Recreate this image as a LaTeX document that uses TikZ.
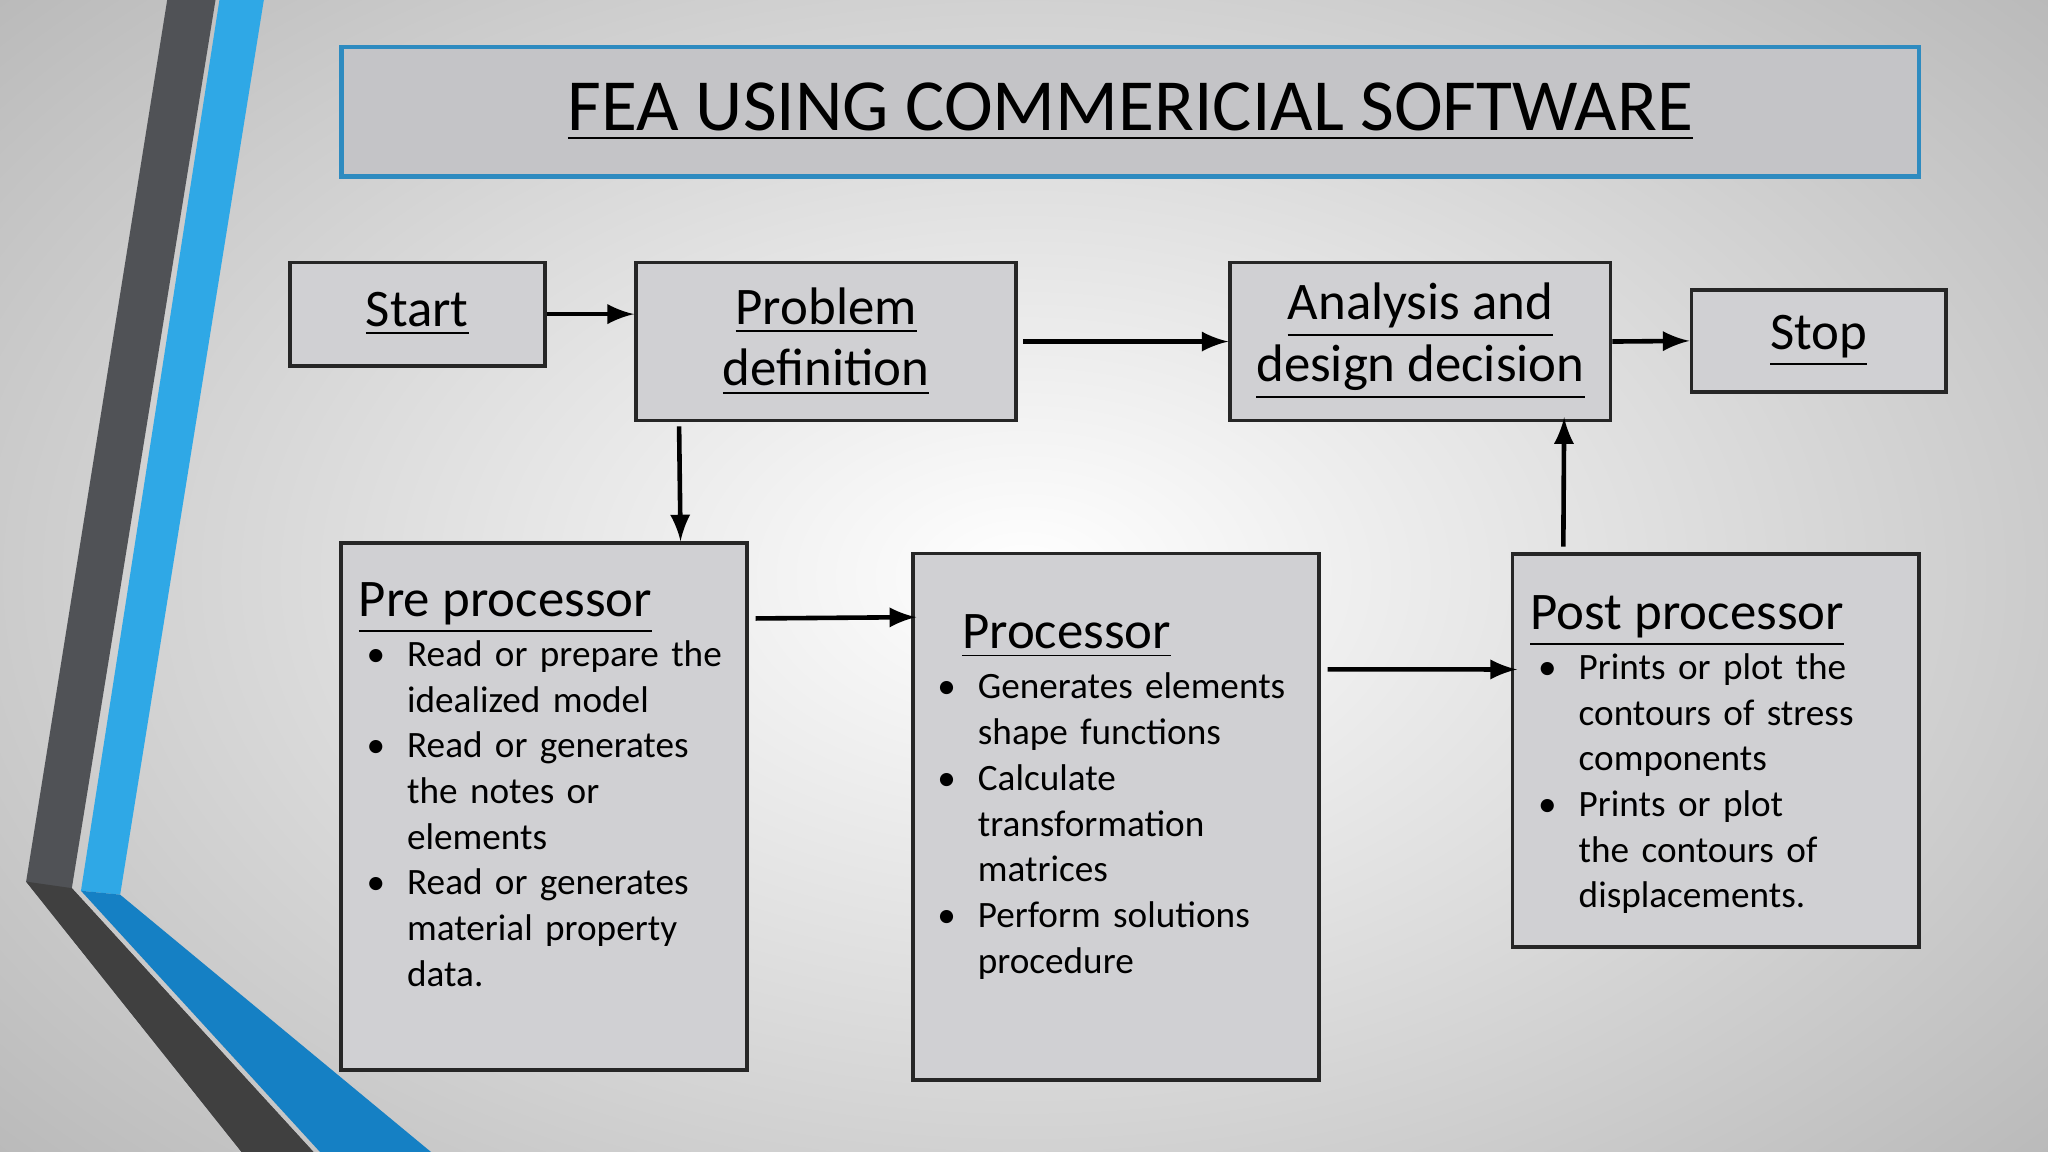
\documentclass[tikz,border=0pt]{standalone}
\usepackage{fontspec}
\setmainfont{Carlito}
\definecolor{boxfill}{HTML}{D0D0D3}
\definecolor{titlefill}{HTML}{C4C4C7}
\definecolor{titleline}{HTML}{2E8BC0}
\definecolor{dkband}{HTML}{505256}
\definecolor{blband}{HTML}{2FA8E6}
\definecolor{blband2}{HTML}{1580C4}
\newcommand{\bitem}[1]{\par\hangindent=0.37cm\hangafter=1\noindent\hspace*{0.06cm}\makebox[0.31cm][l]{\textbullet}#1\par}
\newcommand{\nohyph}{\hyphenpenalty=10000 \exhyphenpenalty=10000 }
\tikzset{
  box/.style={draw=black!85, fill=boxfill, line width=0.8pt},
  arr/.style={-latex, line width=1pt},
  head/.style={font=\fontsize{11.5pt}{13.4pt}\selectfont, align=center},
  body/.style={anchor=north west, align=left, inner sep=0pt, font=\fontsize{8.1pt}{9.95pt}\selectfont}
}
\begin{document}
\begin{tikzpicture}[x=0.01cm,y=-0.01cm]
\useasboundingbox (0,0) rectangle (1568,882);
\shade[inner color=white, outer color=black!28] (-300,-250) rectangle (1868,1132);
% left decoration
\fill[dkband] (128,0) -- (165,0) -- (55,680) -- (240,882) -- (185,882) -- (20,675) -- cycle;
\fill[black!75] (20,675) -- (55,680) -- (240,882) -- (185,882) -- cycle;
\fill[blband] (168,0) -- (202,0) -- (92,685) -- (62,682) -- cycle;
\fill[blband2] (62,682) -- (92,685) -- (330,882) -- (245,882) -- cycle;
% title
\node[draw=titleline, fill=titlefill, line width=1pt, minimum width=12.07cm, minimum height=0.99cm,
  font=\fontsize{16pt}{19pt}\selectfont] (title) at (865.5,85.5) {\underline{FEA USING COMMERICIAL SOFTWARE}};
% top boxes
\node[box, head, minimum width=1.95cm, minimum height=0.79cm] (start) at (319.5,240.5) {\underline{Start}};
\node[box, head, minimum width=2.91cm, minimum height=1.21cm] (prob) at (632.5,261.5) {\underline{Problem}\\\underline{definition}};
\node[box, head, minimum width=2.91cm, minimum height=1.21cm] (anal) at (1087.5,261.5) {\underline{Analysis and}\\\underline{design decision}};
\node[box, head, minimum width=1.95cm, minimum height=0.78cm] (stop) at (1392.5,261) {\underline{Stop}};
% lower boxes
\node[box, minimum width=3.11cm, minimum height=4.03cm] (pre) at (416.5,617.5) {};
\node[box, minimum width=3.11cm, minimum height=4.03cm] (proc) at (854.5,625.5) {};
\node[box, minimum width=3.11cm, minimum height=3.01cm] (post) at (1313.5,574.5) {};
\node[body, text width=2.9cm] (pret) at (274,445) {\nohyph{\fontsize{11.5pt}{13pt}\selectfont\underline{Pre processor}}\par\vspace{1pt}
\bitem{Read or prepare the idealized model}
\bitem{Read or generates the notes or elements}
\bitem{Read or generates material property data.}};
\node[body, text width=2.9cm] (proct) at (711,470) {\nohyph\hspace*{0.25cm}{\fontsize{11.5pt}{13pt}\selectfont\underline{Processor}}\par\vspace{1pt}
\bitem{Generates elements shape functions}
\bitem{Calculate transformation matrices}
\bitem{Perform solutions procedure}};
\node[body, text width=2.9cm] (postt) at (1171,455) {\nohyph{\fontsize{11.5pt}{13pt}\selectfont\underline{Post processor}}\par\vspace{1pt}
\bitem{Prints or plot the contours of stress components}
\bitem{Prints or plot the contours of displacements.}};
% connectors
\draw[arr] (start.east) -- (prob.west |- start.east);
\draw[arr] ([xshift=0.04cm]prob.east) -- (anal.west);
\draw[arr] (anal.east) -- (stop.west);
\draw[arr] ([xshift=-1.125cm,yshift=-0.03cm]prob.south) -- ([xshift=1.045cm]pre.north);
\draw[arr] ([xshift=0.05cm,yshift=-0.59cm]pre.north east) -- ([xshift=0.04cm,yshift=-0.5cm]proc.north west);
\draw[arr] ([xshift=0.05cm,yshift=-0.9cm]proc.north east) -- ([xshift=0.05cm,yshift=-0.9cm]post.north west);
\draw[arr] ([xshift=-1.165cm,yshift=0.04cm]post.north) -- ([xshift=1.1cm,yshift=0.04cm]anal.south);
\end{tikzpicture}
\end{document}
